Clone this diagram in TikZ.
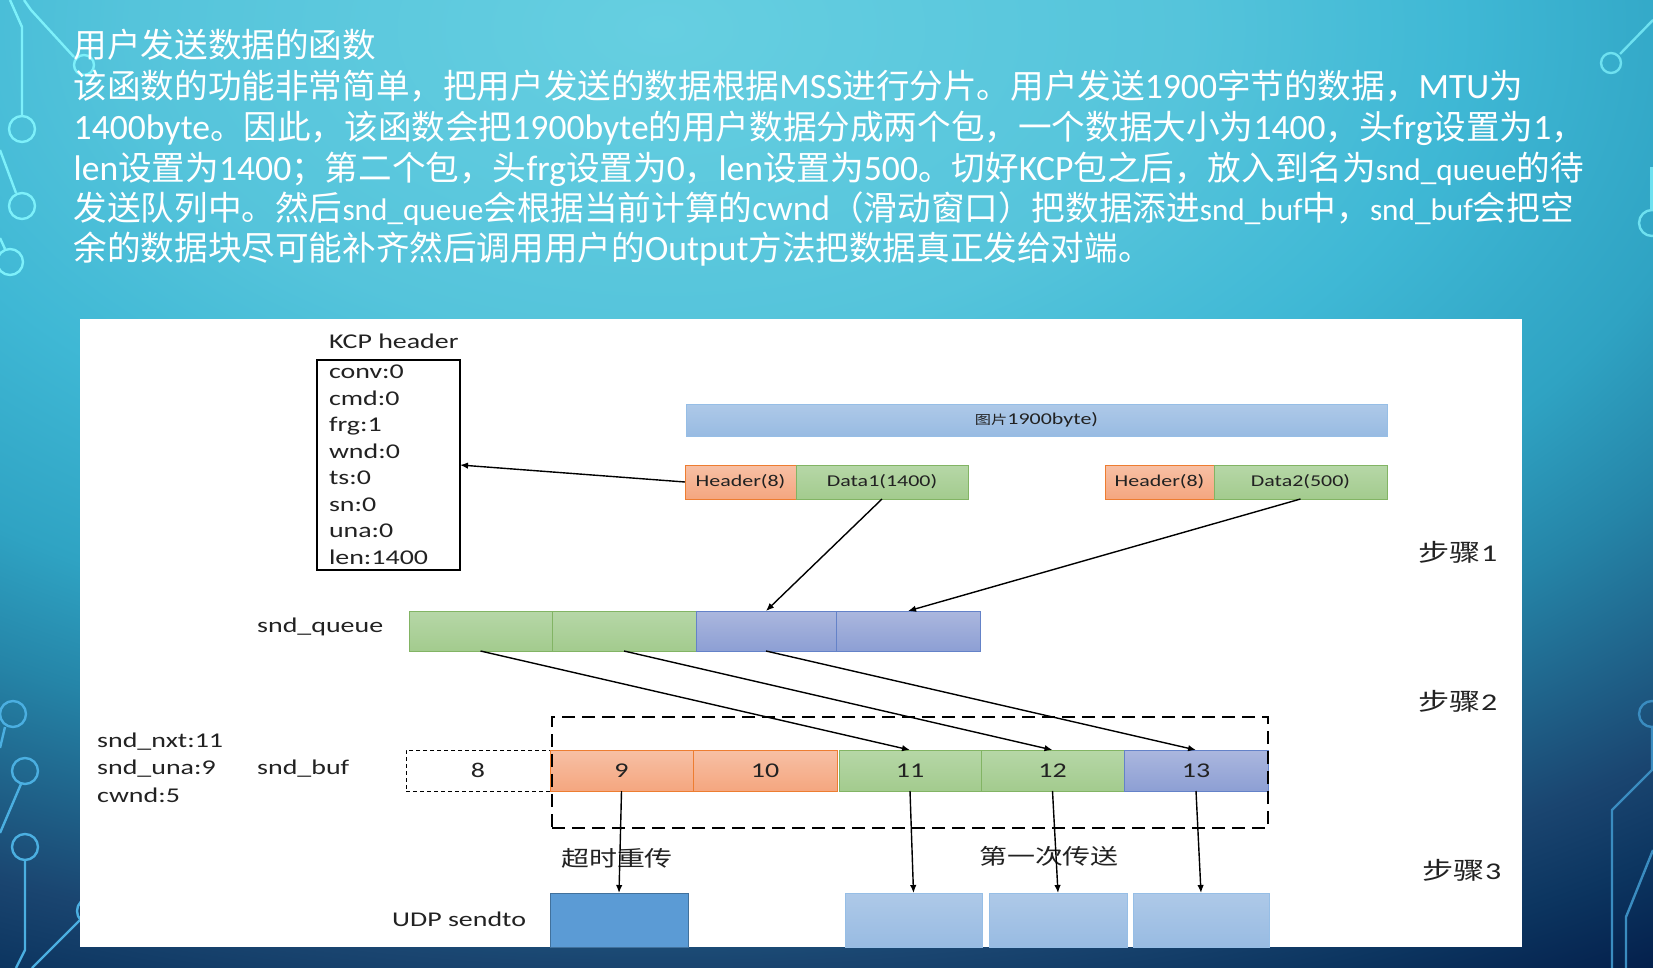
\documentclass[tikz,border=0pt]{standalone}
\usepackage{fontspec}
\setmainfont[FakeStretch=1.33]{Carlito}
\newfontfamily\cjk{Noto Sans CJK SC}
\newfontfamily\cjkwide[FakeStretch=1.3]{Noto Sans CJK SC}
\newfontfamily\lat[Scale=1.06]{Carlito}
\newfontfamily\latnarrow[Scale=0.93]{Carlito}
\newcommand{\la}[1]{{\lat #1}}
\newcommand{\lb}[1]{{\latnarrow #1}}
\usetikzlibrary{positioning,arrows.meta}
\definecolor{bgA}{HTML}{66CFE1}
\definecolor{bgB}{HTML}{55C4DB}
\definecolor{bgC}{HTML}{3FB8D5}
\definecolor{bgD}{HTML}{2FA3C3}
\definecolor{bgE}{HTML}{2585A8}
\definecolor{bgF}{HTML}{1A4570}
\definecolor{bgG}{HTML}{0C3560}
\definecolor{bgH}{HTML}{04204C}
\definecolor{txt}{HTML}{222222}
\pgfdeclareradialshading{slidebg}{\pgfpointorigin}{%
	color(0bp)=(bgA);color(7bp)=(bgB);color(10.6bp)=(bgC);color(14.3bp)=(bgD);
	color(16.8bp)=(bgE);color(21.2bp)=(bgF);color(23bp)=(bgG);color(25bp)=(bgH);color(50bp)=(bgH)}
\begin{document}
\begin{tikzpicture}[x=1pt,y=-1pt,
				titleline/.style={anchor=west,inner sep=0pt,text=white,font=\cjk\fontsize{33.6}{40}\selectfont},
				wire/.style={line width=2.4pt},
				label/.style={anchor=west,inner sep=0pt,text=txt,font=\fontsize{21}{26}\selectfont},
				steplabel/.style={inner sep=0pt,text=txt,font=\cjkwide\fontsize{24}{30}\selectfont},
				note/.style={inner sep=0pt,text=txt,font=\cjkwide\fontsize{21.5}{30}\selectfont},
				cell/.style={draw,inner sep=0pt,outer sep=0pt,line width=1pt,text=txt,font=\fontsize{21}{24}\selectfont},
				tiny/.style={cell,font=\fontsize{16.5}{20}\selectfont,minimum height=34pt},
				green/.style={draw={rgb,255:red,130;green,180;blue,100},top color={rgb,255:red,182;green,215;blue,167},bottom color={rgb,255:red,163;green,203;blue,142}},
				orange/.style={draw={rgb,255:red,237;green,125;blue,49},top color={rgb,255:red,247;green,192;blue,165},bottom color={rgb,255:red,245;green,166;blue,127}},
				purple/.style={draw={rgb,255:red,100;green,130;blue,200},top color={rgb,255:red,171;green,183;blue,222},bottom color={rgb,255:red,141;green,159;blue,212}},
				pale/.style={draw={rgb,255:red,150;green,190;blue,230},top color={rgb,255:red,174;green,201;blue,232},bottom color={rgb,255:red,152;green,187;blue,226}},
				conn/.style={-{Latex[length=8pt,width=6.5pt]},line width=1.4pt,black}]
	% slide background
	\useasboundingbox (0,0) rectangle (1653,968);
	\clip (0,0) rectangle (1653,968);
	\fill[shading=slidebg] (-1223,-1074) rectangle (2545,1132);
	% circuit lines, left
	\begin{scope}[wire,draw={rgb,255:red,125;green,240;blue,250}]
		\draw (10,0) -- (22,27) -- (22,116);
		\draw (22,129) circle (13);
		\draw (24,0) -- (31,10) -- (74,57);
		\draw (84,65) circle (10);
		\draw (0,150) -- (16,193);
		\draw (22,206) circle (13);
		\draw (0,238) -- (5,249);
		\draw (10,262) circle (13);
	\end{scope}
	\begin{scope}[wire,draw={rgb,255:red,75;green,175;blue,225}]
		\draw (13,714) circle (13);
		\draw (5,727) -- (0,748);
		\draw (25,771) circle (13);
		\draw (21,784) -- (0,833);
		\draw (25,847) circle (13);
		\draw (25,860) -- (25,950) -- (16,968);
		\draw (90,911) circle (13);
		\draw (80,920) -- (32,968);
	\end{scope}
	% circuit lines, right
	\begin{scope}[wire,draw={rgb,255:red,110;green,225;blue,240}]
		\draw (1611,63) circle (10);
		\draw (1620,54) -- (1653,20);
		\draw (1652,223) circle (13);
		\draw[line width=3pt] (1651.5,167) -- (1651.5,210);
	\end{scope}
	\begin{scope}[wire,draw={rgb,255:red,58;green,140;blue,192}]
		\draw (1652,714) circle (13);
		\draw (1652,727) -- (1652,770) -- (1612,810) -- (1612,968);
		\draw (1653,850) -- (1626,917) -- (1626,968);
	\end{scope}
	% text on top
	\node[titleline] (line0) at (73.5,45) {用户发送数据的函数};
	\node[titleline] (line1) at (73.5,86) {该函数的功能非常简单，把用户发送的数据根据\la{MSS}进行分片。用户发送\la{1900}字节的数据，\la{MTU}为};
	\node[titleline] (line2) at (73.5,128) {\la{1400byte}。因此，该函数会把\la{1900byte}的用户数据分成两个包，一个数据大小为\la{1400}，头\la{frg}设置为\la{1}，};
	\node[titleline] (line3) at (73.5,169) {\la{len}设置为\la{1400}；第二个包，头\la{frg}设置为\la{0}，\la{len}设置为\la{500}。切好\la{KCP}包之后，放入到名为\lb{snd\_queue}的待};
	\node[titleline] (line4) at (73.5,209) {发送队列中。然后\lb{snd\_queue}会根据当前计算的\la{cwnd}（滑动窗口）把数据添进\lb{snd\_buf}中，\lb{snd\_buf}会把空};
	\node[titleline] (line5) at (73.5,249) {余的数据块尽可能补齐然后调用用户的\la{Output}方法把数据真正发给对端。};
	% white panel
	\fill[white] (80,319) rectangle (1522,947);
	% kcp header
	\node[label] (kcptitle) at (329,341) {KCP header};
	\node[draw,line width=1.4pt,anchor=north west,minimum width=143pt,minimum height=210pt,inner xsep=12pt,inner ysep=0pt,outer sep=0pt,
		text width=119pt,align=left,text=txt,font=\fontsize{21}{26.5}\selectfont] (kcpbox) at (317,360)
		{conv:0\\cmd:0\\frg:1\\wnd:0\\ts:0\\sn:0\\una:0\\len:1400};
	% picture bar and packets
	\node[tiny,pale,anchor=north west,minimum width=701pt,minimum height=32pt] (picbar) at (686,404) {{\cjkwide\fontsize{12.5}{20}\selectfont 图片}1900byte)};
	\node[tiny,orange,anchor=north west,minimum width=111pt] (hdra) at (685,465) {Header(8)};
	\node[tiny,green,minimum width=172pt,right=0pt of hdra] (dataa) {Data1(1400)};
	\node[tiny,orange,anchor=north west,minimum width=109pt] (hdrb) at (1105,465) {Header(8)};
	\node[tiny,green,minimum width=173pt,right=0pt of hdrb] (datab) {Data2(500)};
	% snd_queue
	\node[label] (queuename) at (257,627) {snd\_queue};
	\node[cell,green,anchor=north west,minimum width=143pt,minimum height=40pt] (qa) at (409,611) {};
	\node[cell,green,minimum width=144pt,minimum height=40pt,right=0pt of qa] (qb) {};
	\node[cell,purple,minimum width=140pt,minimum height=40pt,right=0pt of qb] (qc) {};
	\node[cell,purple,minimum width=144pt,minimum height=40pt,right=0pt of qc] (qd) {};
	% snd_buf
	\node[label] (nxt) at (97,742) {snd\_nxt:11};
	\node[label] (una) at (97,769) {snd\_una:9};
	\node[label] (cwnd) at (97,795) {cwnd:5};
	\node[label] (bufname) at (257,769) {snd\_buf};
	\node[cell,dash pattern=on 4pt off 3pt,anchor=north west,minimum width=144pt,minimum height=41pt] (b8) at (406,750) {8};
	\node[cell,orange,minimum width=143pt,minimum height=41pt,right=0pt of b8] (b9) {9};
	\node[cell,orange,minimum width=144pt,minimum height=41pt,right=0pt of b9] (b10) {10};
	\node[cell,green,anchor=north west,minimum width=142pt,minimum height=41pt] (b11) at (839,750) {11};
	\node[cell,green,minimum width=143pt,minimum height=41pt,right=0pt of b11] (b12) {12};
	\node[cell,purple,minimum width=144pt,minimum height=41pt,right=0pt of b12] (b13) {13};
	\node[draw,line width=2.5pt,dash pattern=on 13pt off 7pt,anchor=north west,minimum width=716pt,minimum height=111pt,inner sep=0pt,outer sep=0pt] (window) at (552,717) {};
	% udp sendto
	\node[label] (udpname) at (392,919) {UDP sendto};
	\node[cell,anchor=north west,fill={rgb,255:red,91;green,155;blue,213},draw={rgb,255:red,65;green,113;blue,156},minimum width=138pt,minimum height=54pt] (ua) at (550,893) {};
	\node[cell,pale,anchor=north west,minimum width=137pt,minimum height=54pt] (ub) at (845,893) {};
	\node[cell,pale,anchor=north west,minimum width=138pt,minimum height=54pt] (uc) at (989,893) {};
	\node[cell,pale,anchor=north west,minimum width=136pt,minimum height=54pt] (ud) at (1133,893) {};
	% labels
	\node[note] (resend) at (617,858) {超时重传};
	\node[note] (first) at (1049,856) {第一次传送};
	\node[steplabel] (stepa) at (1458,552) {步骤{\rmfamily 1}};
	\node[steplabel] (stepb) at (1458,701) {步骤{\rmfamily 2}};
	\node[steplabel] (stepc) at (1462,870) {步骤{\rmfamily 3}};
	% arrows
	\draw[conn] (hdra.west) -- (kcpbox.east);
	\draw[conn] (dataa.south) -- (qc.north);
	\draw[conn] (datab.south) -- (qd.north);
	\draw[conn] (qa.south) -- (b11.north);
	\draw[conn] (qb.south) -- (b12.north);
	\draw[conn] (qc.south) -- (b13.north);
	\draw[conn] (b9.south) -- (ua.north);
	\draw[conn] (b11.south) -- (ub.north);
	\draw[conn] (b12.south) -- (uc.north);
	\draw[conn] (b13.south) -- (ud.north);
\end{tikzpicture}
\end{document}
